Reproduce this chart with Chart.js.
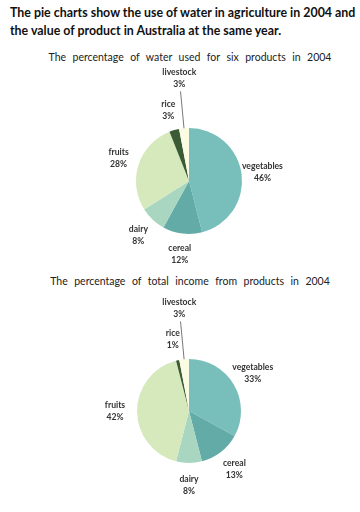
<!DOCTYPE html>
<html>
<head>
<meta charset="utf-8">
<script src="https://cdn.jsdelivr.net/npm/chart.js@4.4.0/dist/chart.umd.min.js"></script>
<style>
  body { margin: 0; background: #fff; width: 360px; height: 512px; position: relative; overflow: hidden; }
  .title { position: absolute; left: 10px; top: 4px; font-family: Lato, sans-serif; font-weight: bold; font-size: 12.4px; line-height: 18px; color: #111; white-space: nowrap; }
  .sub { position: absolute; left: 0; width: 380px; text-align: center; font-family: Lato, sans-serif; font-size: 10.5px; word-spacing: 3.8px; color: #222; white-space: nowrap; }
  canvas { position: absolute; left: 0; }
</style>
</head>
<body>
<div class="title">The pie charts show the use of water in agriculture in 2004 and<br>the value of product in Australia at the same year.</div>
<div class="sub" style="top:51px">The percentage of water used for six products in 2004</div>
<div class="sub" style="top:275px">The percentage of total income from products in 2004</div>
<canvas id="water" width="360" height="210" style="top:65px"></canvas>
<canvas id="income" width="360" height="220" style="top:290px"></canvas>
<script>
const products = ["vegetables", "cereal", "dairy", "fruits", "rice", "livestock"];
const waterShare = [46, 12, 8, 28, 3, 3];
const incomeShare = [33, 13, 8, 42, 1, 3];
const sliceColors = ["#78bfbc", "#63aba6", "#a9d6c0", "#d6e9bd", "#3b5a36", "#fbfae2"];

// labels around the pie, livestock pushed out with a thin leader line
const pieLabels = {
    id: "pieLabels",
    afterDatasetsDraw(chart, args, opts) {
        const ctx = chart.ctx;
        const meta = chart.getDatasetMeta(0);
        const data = chart.data.datasets[0].data;
        ctx.save();
        ctx.font = "bold 8.6px Lato, sans-serif";
        ctx.fillStyle = "#333";
        ctx.textAlign = "center";
        ctx.textBaseline = "middle";
        meta.data.forEach((arc, i) => {
            const p = arc.getProps(["x", "y", "startAngle", "endAngle", "outerRadius"], true);
            const mid = (p.startAngle + p.endAngle) / 2;
            const name = chart.data.labels[i];
            const far = opts.leader.includes(name);
            const r = far ? opts.farRadius : opts.radius;
            const lx = p.x + Math.cos(mid) * r;
            const ly = p.y + Math.sin(mid) * r;
            ctx.fillText(name, lx, ly - 6);
            ctx.fillText(data[i] + "%", lx, ly + 6);
            if (far) {
                ctx.strokeStyle = "#555";
                ctx.lineWidth = 0.8;
                ctx.beginPath();
                ctx.moveTo(p.x + Math.cos(mid) * (r - 13), p.y + Math.sin(mid) * (r - 13));
                ctx.lineTo(p.x + Math.cos(mid) * p.outerRadius, p.y + Math.sin(mid) * p.outerRadius);
                ctx.stroke();
            }
        });
        ctx.restore();
    }
};

function makePie(id, values, padding) {
    return new Chart(document.getElementById(id), {
        type: "pie",
        data: {
            labels: products,
            datasets: [{ data: values, backgroundColor: sliceColors, borderWidth: 0 }]
        },
        options: {
            responsive: false,
            animation: false,
            layout: { padding: padding },
            plugins: {
                legend: { display: false },
                tooltip: { enabled: false },
                pieLabels: { radius: 74, farRadius: 103, leader: ["livestock"] }
            }
        },
        plugins: [pieLabels]
    });
}

makePie("water", waterShare, { left: 136, right: 118, top: 63, bottom: 41 });
makePie("income", incomeShare, { left: 137, right: 119, top: 69, bottom: 47 });
</script>
</body>
</html>
